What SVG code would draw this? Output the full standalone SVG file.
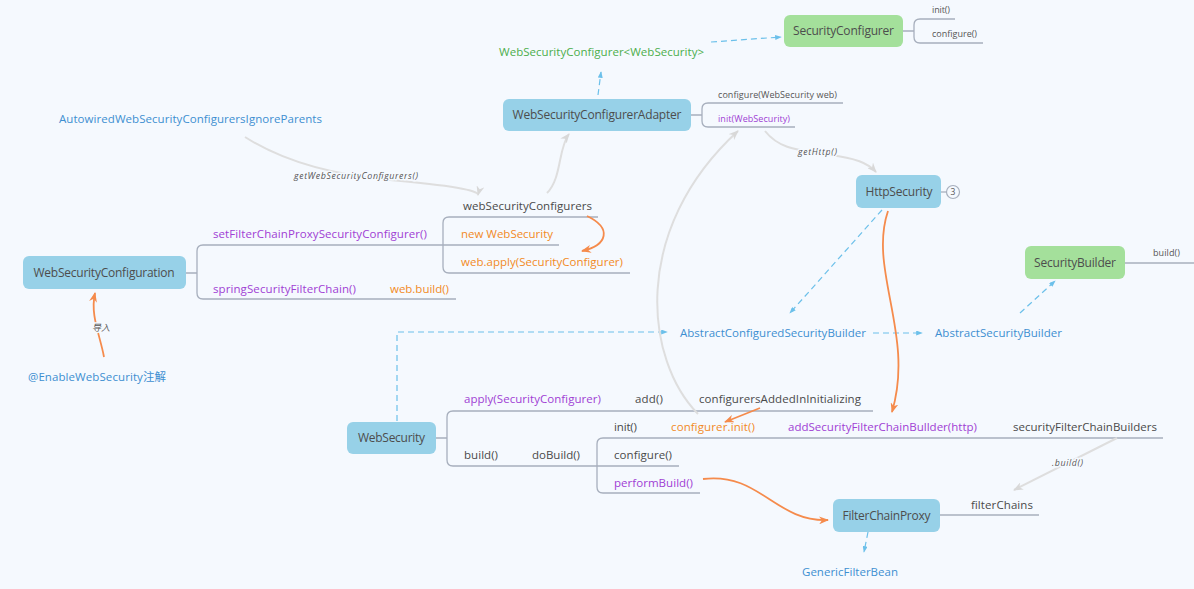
<svg xmlns="http://www.w3.org/2000/svg" width="1194" height="589" viewBox="0 0 1194 589">
<defs>
<style>
text{font-family:"Open Sans","Noto Sans CJK SC",sans-serif;}
.nb{fill:#97d1e8;}
.ng{fill:#a4e09b;}
.nt{font-size:12px;fill:#4d4d4d;text-anchor:middle;}
.lb{font-size:11.5px;}
.sm{font-size:9px;fill:#555;}
.it{font-size:9px;fill:#555;font-style:italic;stroke:#f5f9fe;stroke-width:3px;paint-order:stroke;stroke-linejoin:round;}
.dk{fill:#4a4a4a;}
.pu{fill:#a040d4;}
.or{fill:#f28a1e;}
.bl{fill:#3d8fd1;}
.gr{fill:#4cae4c;}
.br{fill:none;stroke:#a7afbd;stroke-width:1.3;}
.gc{fill:none;stroke:#dedede;stroke-width:2;}
.oc{fill:none;stroke:#f58b4c;stroke-width:1.8;}
.dc{fill:none;stroke:#6cc0ea;stroke-width:1.2;stroke-dasharray:6 4;}
</style>
<marker id="ag" viewBox="0 0 10 8" refX="9" refY="4" markerWidth="10" markerHeight="8" markerUnits="userSpaceOnUse" orient="auto"><path d="M0,0 L10,4 L0,8 L3,4 z" fill="#d8d8d8"/></marker>
<marker id="ao" viewBox="0 0 10 8" refX="9" refY="4" markerWidth="10" markerHeight="8" markerUnits="userSpaceOnUse" orient="auto"><path d="M0,0 L10,4 L0,8 L3,4 z" fill="#f58b4c"/></marker>
<marker id="ab" viewBox="0 0 8 6" refX="7" refY="3" markerWidth="7" markerHeight="5" markerUnits="userSpaceOnUse" orient="auto"><path d="M0,0 L8,3 L0,6 z" fill="#6cc0ea"/></marker>
</defs>
<rect x="0" y="0" width="1194" height="589" fill="#f5f9fe"/>

<g id="connectors">
<!-- mind-map branches -->
<path class="br" d="M903,31 H914 M914,31 V25 Q914,19 920,19 H955 M914,31 V37 Q914,43 920,43 H983"/>
<path class="br" d="M691,115 H702 M702,115 V109 Q702,103 708,103 H843 M702,115 V121 Q702,127 708,127 H795"/>
<path class="br" d="M186,273 H197 M197,273 V251 Q197,245 203,245 H559 M197,273 V293 Q197,299 203,299 H456"/>
<path class="br" d="M443,245 V223 Q443,217 449,217 H598 M443,245 V267 Q443,273 449,273 H630"/>
<path class="br" d="M436,438 H447 M447,438 V417 Q447,411 453,411 H873 M447,438 V460 Q447,466 453,466 H597"/>
<path class="br" d="M597,466 V444 Q597,438 603,438 H1163 M597,466 H679 M597,466 V487 Q597,493 603,493 H700"/>
<path class="br" d="M940,515 H1039"/>
<path class="br" d="M1125,263 H1194"/>
<path class="br" d="M941,192 H946.5"/>
<circle cx="953" cy="192" r="6.5" fill="#f5f9fe" stroke="#a7afbd" stroke-width="1.2"/>
<!-- dashed inheritance -->
<path class="dc" d="M711,42 L781,37" marker-end="url(#ab)"/>
<path class="dc" d="M598,95 L601,72" marker-end="url(#ab)"/>
<path class="dc" d="M397,421 V332 H667" marker-end="url(#ab)"/>
<path class="dc" d="M873,333 H922" marker-end="url(#ab)"/>
<path class="dc" d="M882,210 L790,313" marker-end="url(#ab)"/>
<path class="dc" d="M1020,313 L1055,281" marker-end="url(#ab)"/>
<path class="dc" d="M868,532 L864,552" marker-end="url(#ab)"/>
<!-- gray relations -->
<path class="gc" d="M245,137 Q300,172 390,180 T478,195" marker-end="url(#ag)"/>
<path class="gc" d="M547,193 C562,178 558,148 569,134" marker-end="url(#ag)"/>
<path class="gc" d="M765,131 C780,150 800,150 830,155 C855,158 868,163 876,172" marker-end="url(#ag)"/>
<path class="gc" d="M698,414 C645,360 630,230 738,131" marker-end="url(#ag)"/>
<path class="gc" d="M1117,438 L1014,490" marker-end="url(#ag)"/>
<!-- orange flows -->
<path class="oc" d="M104,357 C100,335 90,315 95,293" marker-end="url(#ao)"/>
<path class="oc" d="M587,216 C612,228 608,245 582,251" marker-end="url(#ao)"/>
<path class="oc" d="M888,211 C868,270 915,335 892,412" marker-end="url(#ao)"/>
<path class="oc" d="M760,408 L725,422" marker-end="url(#ao)"/>
<path class="oc" d="M703,479 C760,472 775,522 828,520" marker-end="url(#ao)"/>
<!-- connector labels -->
<text class="it" x="294" y="179" textLength="124">getWebSecurityConfigurers()</text>
<text class="it" x="798" y="155" textLength="39">getHttp()</text>
<text class="it" x="1052" y="466" textLength="31">.build()</text>
<text class="it" x="92" y="331" textLength="18">导入</text>
<text class="sm" x="953" y="195.2" text-anchor="middle" style="font-size:8.5px">3</text>
</g>

<g id="node-securityconfigurer">
<rect class="ng" x="784" y="15" width="119" height="32" rx="6"/>
<text class="nt" x="843.5" y="35" textLength="101">SecurityConfigurer</text>
<text class="sm" x="932" y="13" textLength="18">init()</text>
<text class="sm" x="932" y="37" textLength="45">configure()</text>
</g>

<g id="node-websecurityconfigurer-generic">
<text class="lb gr" x="499" y="56" textLength="205">WebSecurityConfigurer&lt;WebSecurity&gt;</text>
</g>

<g id="node-websecurityconfigureradapter">
<rect class="nb" x="503" y="99" width="188" height="32" rx="6"/>
<text class="nt" x="597" y="119" textLength="169">WebSecurityConfigurerAdapter</text>
<text class="sm" x="718" y="97.5" textLength="119">configure(WebSecurity web)</text>
<text class="sm pu" x="718" y="121.5" textLength="72">init(WebSecurity)</text>
</g>

<g id="node-autowired">
<text class="lb bl" x="59" y="123" textLength="263">AutowiredWebSecurityConfigurersIgnoreParents</text>
</g>

<g id="node-websecurityconfiguration">
<rect class="nb" x="23" y="256" width="163" height="33" rx="6"/>
<text class="nt" x="104" y="277" textLength="141">WebSecurityConfiguration</text>
<text class="lb pu" x="213" y="238" textLength="214">setFilterChainProxySecurityConfigurer()</text>
<text class="lb pu" x="213" y="293" textLength="143">springSecurityFilterChain()</text>
<text class="lb or" x="390" y="293" textLength="59">web.build()</text>
<text class="lb dk" x="463" y="210" textLength="129">webSecurityConfigurers</text>
<text class="lb or" x="461" y="238" textLength="92">new WebSecurity</text>
<text class="lb or" x="461" y="266" textLength="162">web.apply(SecurityConfigurer)</text>
</g>

<g id="node-enablewebsecurity">
<text class="lb bl" x="28" y="381" textLength="138">@EnableWebSecurity注解</text>
</g>

<g id="node-httpsecurity">
<rect class="nb" x="856" y="175" width="85" height="33" rx="6"/>
<text class="nt" x="899" y="196" textLength="67">HttpSecurity</text>
</g>

<g id="node-securitybuilder">
<rect class="ng" x="1025" y="246" width="100" height="33" rx="6"/>
<text class="nt" x="1075" y="267" textLength="82">SecurityBuilder</text>
<text class="sm" x="1153" y="256" textLength="27">build()</text>
</g>

<g id="node-abstractconfigured">
<text class="lb bl" x="680" y="337" textLength="186">AbstractConfiguredSecurityBuilder</text>
</g>

<g id="node-abstractsecuritybuilder">
<text class="lb bl" x="935" y="337" textLength="127">AbstractSecurityBuilder</text>
</g>

<g id="node-websecurity">
<rect class="nb" x="347" y="422" width="89" height="32" rx="6"/>
<text class="nt" x="391.5" y="442" textLength="67">WebSecurity</text>
<text class="lb pu" x="464" y="403" textLength="137">apply(SecurityConfigurer)</text>
<text class="lb dk" x="635" y="403" textLength="28">add()</text>
<text class="lb dk" x="699" y="403" textLength="162">configurersAddedInInitializing</text>
<text class="lb dk" x="464" y="459" textLength="34">build()</text>
<text class="lb dk" x="532" y="459" textLength="48">doBuild()</text>
<text class="lb dk" x="614" y="431" textLength="23">init()</text>
<text class="lb or" x="671" y="431" textLength="84">configurer.init()</text>
<text class="lb pu" x="788" y="431" textLength="189">addSecurityFilterChainBullder(http)</text>
<text class="lb dk" x="1013" y="431" textLength="144">securityFilterChainBuilders</text>
<text class="lb dk" x="614" y="459" textLength="58">configure()</text>
<text class="lb pu" x="614" y="487" textLength="79">performBuild()</text>
</g>

<g id="node-filterchainproxy">
<rect class="nb" x="833" y="499" width="107" height="33" rx="6"/>
<text class="nt" x="886.5" y="520" textLength="88">FilterChainProxy</text>
<text class="lb dk" x="971" y="509" textLength="62">filterChains</text>
</g>

<g id="node-genericfilterbean">
<text class="lb bl" x="802" y="576" textLength="96">GenericFilterBean</text>
</g>
</svg>
